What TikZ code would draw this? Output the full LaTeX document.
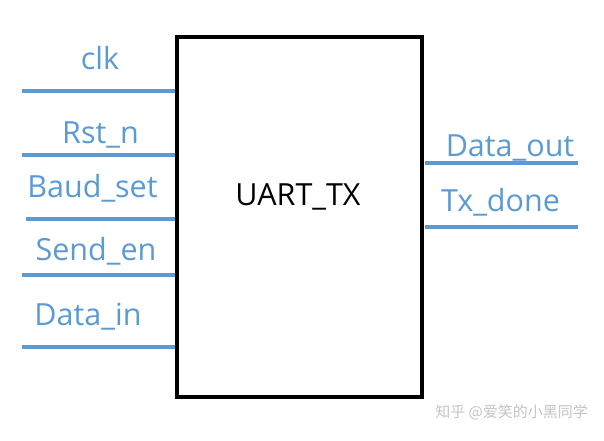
\documentclass[tikz,border=0pt]{standalone}
\usepackage{fontspec}
\setmainfont{Open Sans}
\newfontfamily\cjkfont{Noto Sans CJK SC}
\definecolor{sigblue}{HTML}{5B9BD5}
\definecolor{wmgray}{HTML}{C4C4C4}
\begin{document}
\begin{tikzpicture}[x=1pt,y=-1pt,
  sig/.style={draw=sigblue,line width=4pt},
  lbl/.style={text=sigblue,font=\fontsize{30.5}{36}\selectfont,anchor=base,inner sep=0pt},
  blk/.style={draw=black,line width=4pt,minimum width=245.3pt,minimum height=359.2pt,inner sep=0pt,anchor=north west}]
\useasboundingbox (0,0) rectangle (604,440);
\node[blk] (box) at (174.7,35.3) {};
\node[anchor=base,inner sep=0pt,font=\fontsize{30.5}{36}\selectfont] (title) at (298,205) {UART\_TX};
% left inputs
\coordinate (i1) at (22,91);
\coordinate (i2) at (22,155);
\coordinate (i3) at (26,218.7);
\coordinate (i4) at (22,275);
\coordinate (i5) at (22,346.7);
\draw[sig] (i1) -- (i1 -| box.west);
\draw[sig] (i2) -- (i2 -| box.west);
\draw[sig] (i3) -- (i3 -| box.west);
\draw[sig] (i4) -- (i4 -| box.west);
\draw[sig] (i5) -- (i5 -| box.west);
\node[lbl] (l1) at (100,69) {clk};
\node[lbl] (l2) at (100.5,143) {Rst\_n};
\node[lbl] (l3) at (92.5,197) {Baud\_set};
\node[lbl] (l4) at (96,260) {Send\_en};
\node[lbl] (l5) at (88,325) {Data\_in};
% right outputs
\coordinate (o1s) at (425,162.7);
\coordinate (o1e) at (578,162.7);
\coordinate (o2s) at (425,226.7);
\coordinate (o2e) at (578,226.7);
\draw[sig] (o1s) -- (o1e);
\draw[sig] (o2s) -- (o2e);
\node[lbl] (r1) at (510,156) {Data\_out};
\node[lbl] (r2) at (500.5,211.7) {Tx\_done};
% watermark
\node[anchor=base east,inner sep=0pt,text=wmgray,font=\cjkfont\fontsize{15}{18}\selectfont] (wm) at (588,417) {知乎 @爱笑的小黑同学};
\end{tikzpicture}
\end{document}
